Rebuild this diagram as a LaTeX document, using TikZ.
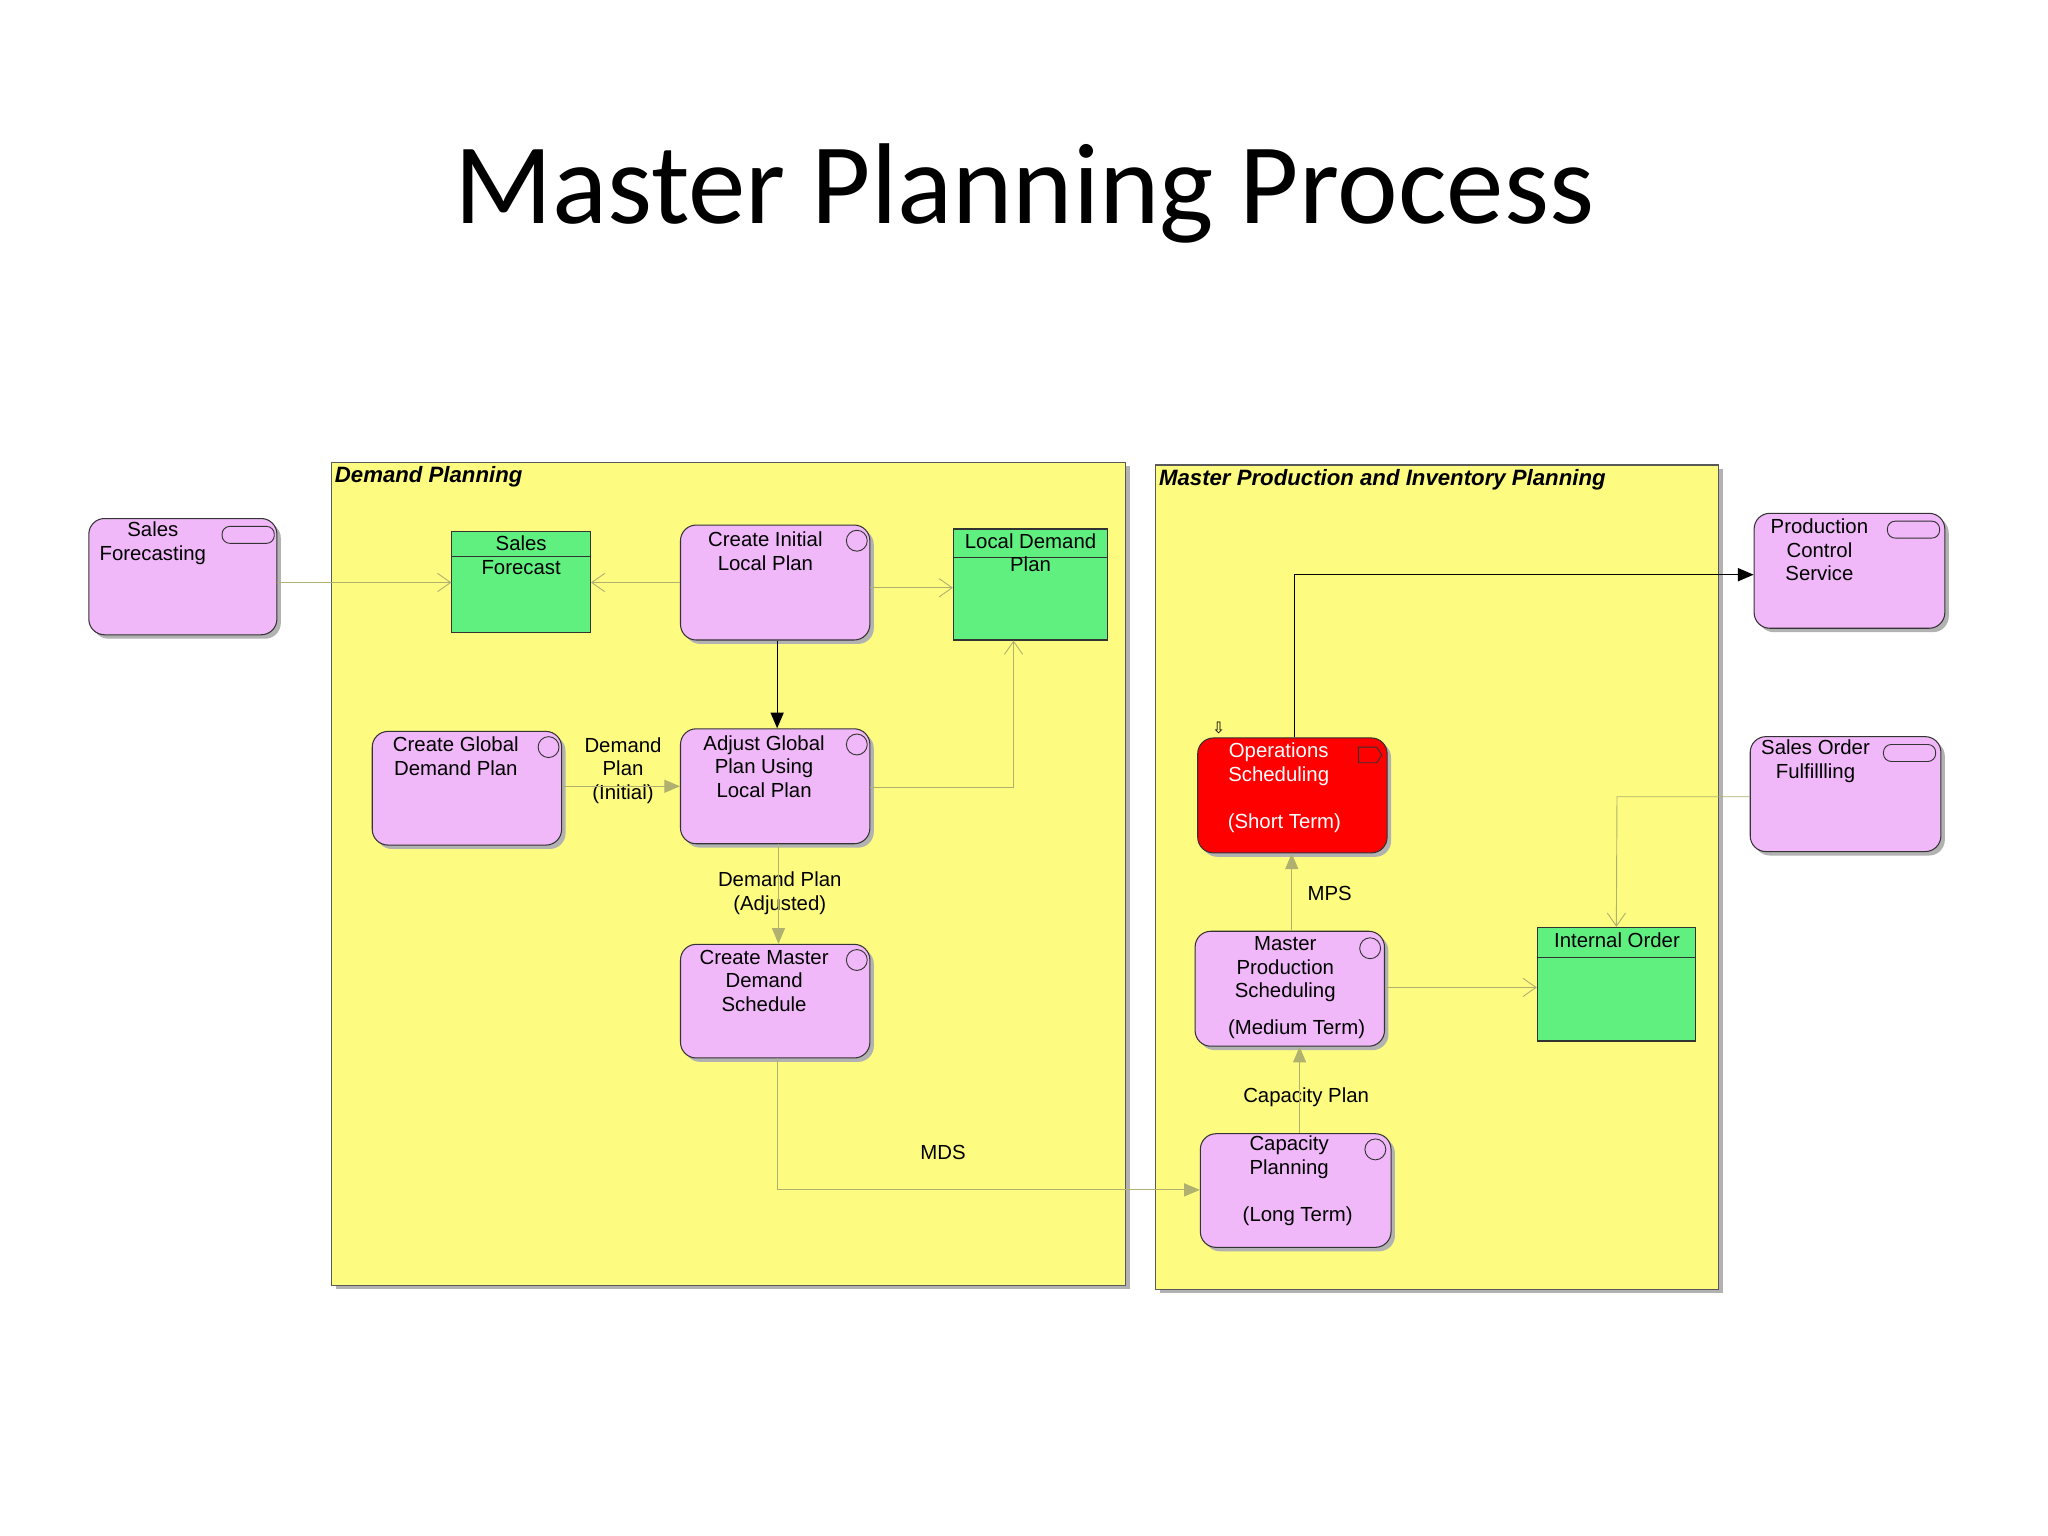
\documentclass[tikz,border=0pt]{standalone}
\usepackage{fontspec}
\setmainfont{Liberation Sans}
\newfontfamily\titlefont{Carlito}
\newfontfamily\symfont{DejaVu Sans}
\usetikzlibrary{fit,arrows.meta,shadows}
\definecolor{pyel}{HTML}{FEFC80}
\definecolor{ppink}{HTML}{F0B8F8}
\definecolor{pgreen}{HTML}{60F080}
\definecolor{lineol}{HTML}{B0B070}
\tikzset{
 x=0.5pt,y=-0.5pt,
 panel/.style={draw=gray!70!black,fill=pyel,inner sep=0,line width=0.4pt,drop shadow={shadow xshift=1.5pt,shadow yshift=-1.5pt,fill=gray!60,opacity=1}},
 proc/.style={draw=black!80,fill=ppink,rounded corners=6pt,inner sep=0,line width=0.4pt,drop shadow={shadow xshift=1.5pt,shadow yshift=-1.5pt,fill=gray!60,opacity=1}},
 datab/.style={draw=black!80,fill=pgreen,inner sep=0,line width=0.4pt},
 txt/.style={align=center,font=\fontsize{7.8}{9}\selectfont,inner sep=0},
 thinl/.style={draw=lineol,line width=0.35pt},
 opena/.style={-{Straight Barb[length=5pt,width=7pt,line width=0.35pt]}},
 filla/.style={-{Triangle[length=6pt,width=5pt]}},
 ring/.style={draw=black!80,line width=0.35pt},
}
\begin{document}
\begin{tikzpicture}
\useasboundingbox (0,0) rectangle (1568,1176);
\fill[white] (0,0) rectangle (1568,1176);
\node[font=\titlefont\fontsize{44}{50}\selectfont] (title) at (784,148) {Master Planning Process};
% panels
\node[panel,fit={(254,354) (862,984)}] (dp) {};
\node[anchor=north west,font=\bfseries\itshape\fontsize{8.5}{10}\selectfont,inner sep=0] (dpt) at (256,357) {Demand Planning};
\node[panel,fit={(885,356) (1316,987)}] (mp) {};
\node[anchor=north west,font=\bfseries\itshape\fontsize{8.5}{10}\selectfont,inner sep=0] (mpt) at (887,359) {Master Production and Inventory Planning};
% process boxes
\node[proc,fit={(68,397) (212,486)}] (sf) {};
\node[proc,fit={(521,402) (666,490)}] (cil) {};
\node[proc,fit={(285,560) (430,647)}] (cg) {};
\node[proc,fit={(521,558) (666,646)}] (ag) {};
\node[proc,fit={(521,723) (666,810)}] (cm) {};
\node[proc,fill=red,fit={(917,565) (1062,653)}] (os) {};
\node[proc,fit={(915,713) (1060,801)}] (mps) {};
\node[proc,fit={(919,868) (1065,955)}] (cp) {};
\node[proc,fit={(1343,393) (1489,481)}] (pcs) {};
\node[proc,fit={(1340,564) (1486,652)}] (sof) {};
% data boxes
\node[datab,fit={(346,407) (452,484)}] (sfc) {};
\draw[black!80,line width=0.4pt] (346,426) -- (452,426);
\node[datab,fit={(730,405) (848,490)}] (ldp) {};
\draw[black!80,line width=0.4pt] (730,427) -- (848,427);
\node[datab,fit={(1177,710) (1298,797)}] (io) {};
\draw[black!80,line width=0.4pt] (1177,733) -- (1298,733);
% icons
\draw[ring,rounded corners=3pt] (170,403) rectangle (210,416);
\draw[ring,rounded corners=3pt] (1445,399) rectangle (1485,412);
\draw[ring,rounded corners=3pt] (1442,570) rectangle (1482,583);
\foreach \p in {(656,414),(420,572),(656,570),(656,735),(1049,726),(1053,880)} \draw[ring] \p circle (4pt);
\draw[ring] (1040,572) -- (1054,572) -- (1058,578) -- (1054,584) -- (1040,584) -- cycle;
\node[txt,font=\symfont\fontsize{6}{6}\selectfont] (dn) at (933,557) {⇩};
% texts
\node[txt] (t1) at (117,416) {Sales\\Forecasting};
\node[txt] (t2) at (399,425) {Sales\\Forecast};
\node[txt] (t3) at (586,422) {Create Initial\\Local Plan};
\node[txt] (t4) at (789,423) {Local Demand\\Plan};
\node[txt] (t5) at (349,579) {Create Global\\Demand Plan};
\node[txt] (t6) at (585,587) {Adjust Global\\Plan Using\\Local Plan};
\node[txt] (t7) at (585,751) {Create Master\\Demand\\Schedule};
\node[txt,white] (t8) at (979,603) {Operations\\Scheduling\\[9pt]~~(Short Term)};
\node[txt] (t9) at (984,756) {Master\\Production\\Scheduling\\[5pt]~~~~(Medium Term)};
\node[txt] (t10) at (987,904) {Capacity\\Planning\\[9pt]~~~(Long Term)};
\node[txt] (t11) at (1238,720) {Internal Order};
\node[txt] (t12) at (1393,421) {Production\\Control\\Service};
\node[txt] (t13) at (1390,583) {Sales Order\\Fulfillling};
% connector labels
\node[txt] (l1) at (477,590) {Demand\\Plan\\(Initial)};
\node[txt] (l2) at (597,684) {Demand Plan\\(Adjusted)};
\node[txt] (l3) at (722,882) {MDS};
\node[txt] (l4) at (1000,840) {Capacity Plan};
\node[txt] (l5) at (1018,684) {MPS};
% connectors
\draw[thinl,opena] (sf.east |- 0,446) -- (sfc.west |- 0,446);
\draw[thinl,opena] (cil.west |- 0,446) -- (sfc.east |- 0,446);
\draw[thinl,opena] (cil.east |- 0,450) -- (ldp.west |- 0,450);
\draw[black,line width=0.5pt,filla] (cil.south -| 595,0) -- (ag.north -| 595,0);
\draw[thinl,filla] (cg.east |- 0,602) -- (ag.west |- 0,602);
\draw[thinl,opena] (ag.east |- 0,603) -- (776,603) -- (ldp.south -| 776,0);
\draw[thinl,filla] (ag.south -| 596,0) -- (cm.north -| 596,0);
\draw[thinl,filla] (cm.south -| 595,0) -- (595,911) -- (cp.west |- 0,911);
\draw[thinl,filla] (cp.north -| 995,0) -- (mps.south -| 995,0);
\draw[thinl,filla] (mps.north -| 989,0) -- (os.south -| 989,0);
\draw[black,line width=0.5pt,filla] (os.north -| 991,0) -- (991,440) -- (pcs.west |- 0,440);
\draw[thinl,opena] (mps.east |- 0,756) -- (io.west |- 0,756);
\draw[thinl,opena] (sof.west |- 0,610) -- (1238,610) -- (io.north);
\end{tikzpicture}
\end{document}
